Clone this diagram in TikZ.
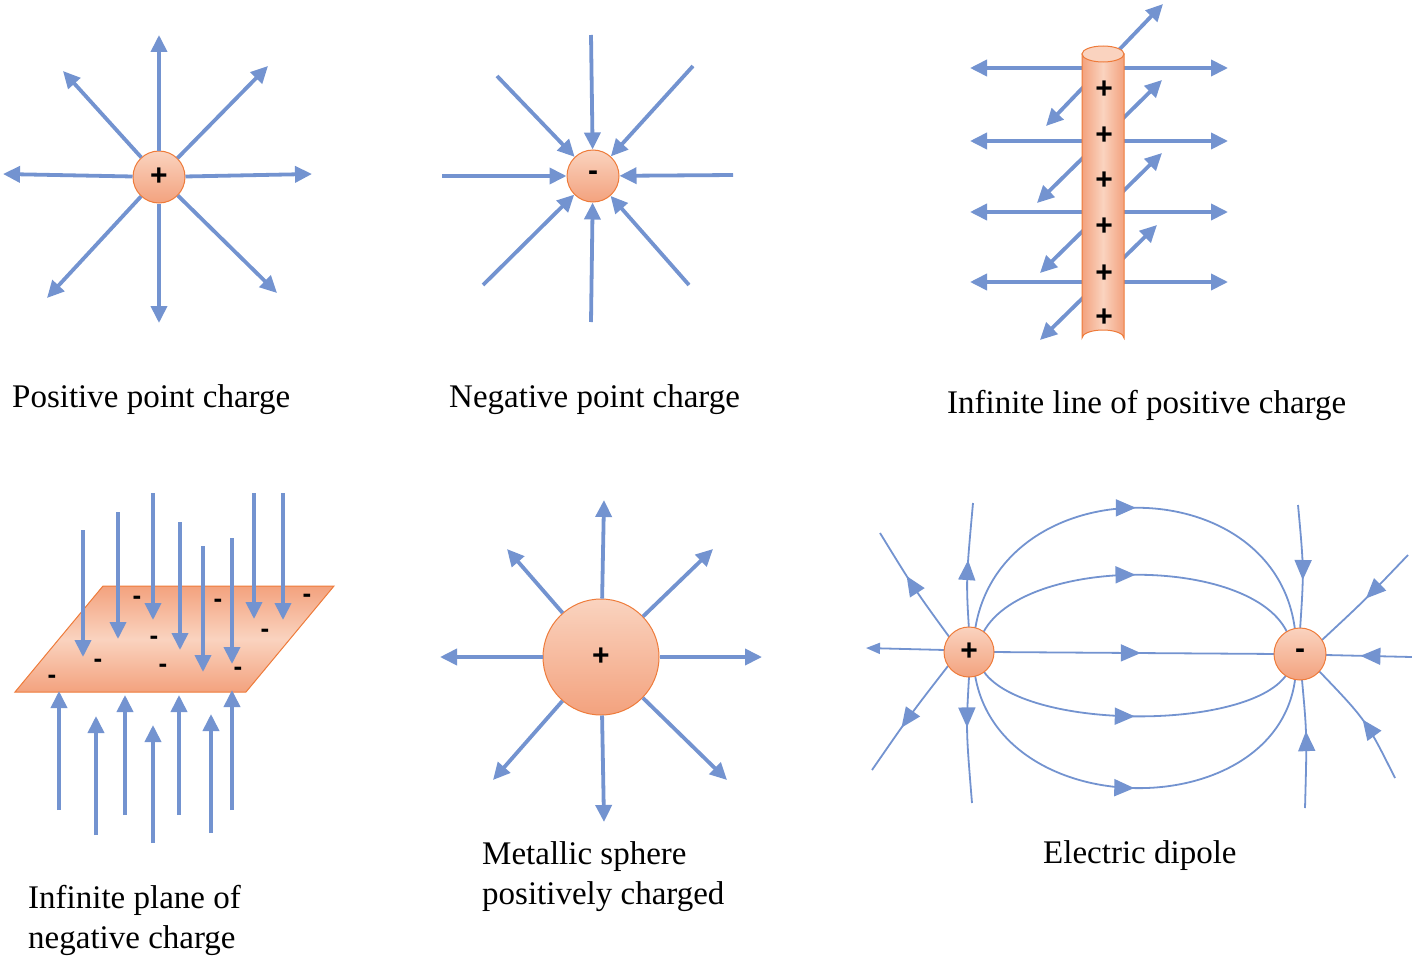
\documentclass[tikz,border=0pt]{standalone}
\usepackage{fontspec}
\setmainfont{Liberation Serif}
\setsansfont{Liberation Sans}
\usetikzlibrary{arrows.meta,decorations.markings}
\definecolor{fb}{HTML}{7393D0}
\definecolor{ot}{HTML}{FAD3BF}
\definecolor{ob}{HTML}{F3A27E}
\definecolor{oe}{HTML}{EE7B3A}
\begin{document}
\begin{tikzpicture}[x=1pt,y=-1pt,
 tip/.style={Triangle[length=17pt,width=16pt]},
 arr/.style={draw=fb,line width=3.8pt,-{Triangle[length=17pt,width=16pt]}},
 thin/.style={draw=fb,line width=1.8pt},
 chg/.style={circle,draw=oe,line width=1pt,top color=ot,bottom color=ob,inner sep=0pt,font=\sffamily\bfseries\fontsize{30}{30}\selectfont},
 lbl/.style={anchor=west,align=left,font=\fontsize{33}{40}\selectfont,inner sep=0pt},
 sg/.style={font=\sffamily\bfseries\fontsize{26}{26}\selectfont,inner sep=0pt},
 mk/.style={postaction={decorate},decoration={markings,mark=at position #1 with {\arrow{Triangle[length=20pt,width=17pt]}}}},
 mk/.default=0.5]
\useasboundingbox (0,0) rectangle (1412,958);
% panel 1
\node[chg,minimum size=52pt] (p1) at (159,177) {+};
\foreach \t in {(159,35),(159,323),(3,174),(312,174),(63,71),(268,66),(47,298),(277,293)}
 \draw[arr] (p1) -- \t;
\node[lbl] (l1) at (12,400) {Positive point charge};
% panel 2
\node[chg,minimum size=52pt] (n1) at (593,176) {-};
\foreach \s in {(591,35),(497,76),(693,66),(442,176),(733,175),(483,285),(591,322),(689,285)}
 \draw[arr] \s -- (n1);
\node[lbl] (l2) at (449,400) {Negative point charge};
% panel 3
\draw[arr,{Triangle[length=17pt,width=16pt]}-{Triangle[length=17pt,width=16pt]}] (1046,126) -- (1163,4);
\draw[arr,{Triangle[length=17pt,width=16pt]}-{Triangle[length=17pt,width=16pt]}] (1037,203) -- (1162,80);
\draw[arr,{Triangle[length=17pt,width=16pt]}-{Triangle[length=17pt,width=16pt]}] (1040,273) -- (1162,153);
\draw[arr,{Triangle[length=17pt,width=16pt]}-{Triangle[length=17pt,width=16pt]}] (1040,340) -- (1157,225);
\foreach \y in {68,141,212,282}{
 \draw[arr] (1082,\y) -- (970,\y);
 \draw[arr] (1124,\y) -- (1228,\y);}
\path[draw=oe,line width=1pt,top color=ob,bottom color=ob,middle color=ot,shading angle=90]
 (1082,54) -- (1082,338) arc[start angle=180,end angle=360,x radius=21,y radius=8] -- (1124,54) -- cycle;
\draw[draw=oe,line width=1pt,fill=ot] (1103,54) ellipse[x radius=21,y radius=8];
\foreach \y in {90,136,181,227,274,318} \node[sg,font=\sffamily\bfseries\fontsize{30}{30}\selectfont] at (1104,\y) {+};
\node[lbl] (l3) at (947,405) {Infinite line of positive charge};
% panel 4
\path[draw=oe,line width=1pt,top color=ob,bottom color=ob,middle color=ot] (15,692) -- (103,586) -- (334,586) -- (246,692) -- cycle;
\foreach \x/\a/\b in {83/530/657,118/512/639,153/493/620,180/522/650,203/546/672,232/538/664,254/493/619,283/493/620}
 \draw[arr] (\x,\a) -- (\x,\b);
\foreach \p in {(137,600),(218,603),(307,598),(154,640),(265,633),(98,663),(163,668),(238,671),(52,679)}
 \node[sg] at \p {-};
\foreach \x/\a/\b in {59/810/691,96/835/716,125/815/695,153/843/725,179/815/695,211/833/714,232/810/690}
 \draw[arr] (\x,\a) -- (\x,\b);
\node[lbl] (l4) at (28,920) {Infinite plane of\\negative charge};
% panel 5
\node[chg,minimum size=116pt] (s1) at (601,657) {+};
\foreach \t in {(604,500),(604,822),(440,657),(762,657),(507,549),(713,549),(493,780),(727,780)}
 \draw[arr] (s1) -- \t;
\node[lbl] (l5) at (482,877) {Metallic sphere\\positively charged};
% panel 6
\draw[thin,mk] (975,630) .. controls (1000,467) and (1275,467) .. (1295,630);
\draw[thin,mk] (980,640) .. controls (1010,553) and (1265,553) .. (1290,640);
\draw[thin,mk=0.52] (990,652) -- (1280,654);
\draw[thin,mk] (980,665) .. controls (1010,733) and (1265,733) .. (1290,668);
\draw[thin,mk] (975,675) .. controls (1000,825) and (1275,825) .. (1295,680);
\draw[thin,mk=0.55] (969,630) .. controls (966,580) .. (973,503);
\draw[thin,mk=0.6] (950,638) .. controls (915,590) .. (880,533);
\draw[thin,-{Triangle[length=14pt,width=11pt]}] (945,650) -- (866,648);
\draw[thin,mk=0.6] (948,666) .. controls (910,715) .. (872,770);
\draw[thin,mk=0.4] (969,677) .. controls (966,730) .. (972,803);
\draw[thin,mk=0.6] (1298,505) .. controls (1304,570) .. (1300,630);
\draw[thin,mk=0.5] (1408,555) .. controls (1365,600) .. (1322,640);
\draw[thin,mk=0.6] (1412,657) -- (1326,655);
\draw[thin,mk=0.5] (1395,778) .. controls (1366,720) .. (1318,670);
\draw[thin,mk=0.6] (1305,808) .. controls (1307,735) .. (1302,680);
\node[chg,minimum size=50pt] (d1) at (969,652) {+};
\node[chg,minimum size=52pt] (d2) at (1300,654) {-};
\node[lbl] (l6) at (1043,856) {Electric dipole};
\end{tikzpicture}
\end{document}
